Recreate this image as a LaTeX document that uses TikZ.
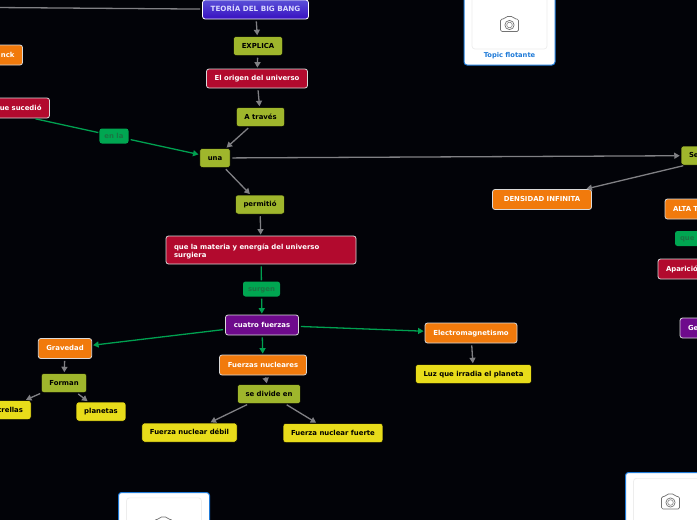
\documentclass[tikz,border=0pt]{standalone}
\usepackage{fontspec}
\setmainfont{DejaVu Sans}
\usetikzlibrary{arrows.meta}
\definecolor{pagebg}{HTML}{020308}
\definecolor{olivebox}{HTML}{9FB62C}
\definecolor{crimsonbox}{HTML}{B20A2E}
\definecolor{orangebox}{HTML}{F17A0C}
\definecolor{yellowbox}{HTML}{E8DC1A}
\definecolor{purplebox}{HTML}{6E0A8C}
\definecolor{greenbox}{HTML}{00A651}
\definecolor{greenline}{HTML}{00A050}
\definecolor{greenword}{HTML}{1B7544}
\definecolor{greyline}{HTML}{808084}
\definecolor{cardblue}{HTML}{1E7AD8}
\definecolor{bigbangtop}{HTML}{5A50D8}
\definecolor{bigbangbot}{HTML}{3810C0}
\tikzset{
  topic/.style={rounded corners=2.5pt,inner xsep=8pt,inner ysep=0pt,minimum height=19pt,
    text height=4.7pt,text depth=0.5pt,font=\bfseries\fontsize{6.9}{8}\selectfont},
  main/.style={topic,draw=white!85!black,line width=0.8pt,text=white},
  sub/.style={topic,draw=black,line width=0.5pt,text=black},
  verb/.style={sub,fill=olivebox},
  red/.style={main,fill=crimsonbox},
  orange/.style={main,fill=orangebox},
  violet/.style={main,fill=purplebox},
  yellow/.style={sub,fill=yellowbox},
  tag/.style={topic,fill=greenbox,text=greenword,minimum height=15pt,inner xsep=5pt},
  link/.style={draw=greyline,line width=1.3pt,-{Triangle[length=5.5pt,width=6pt]},shorten >=1pt,shorten <=2pt},
  greenlink/.style={link,draw=greenline,-{Triangle[length=5.5pt,width=6pt]}},
  card/.style={draw=cardblue,fill=white,line width=1pt,rounded corners=3pt,minimum width=91pt,minimum height=96pt},
  photo/.style={draw=black!7,fill=white,line width=0.7pt,rounded corners=3pt,minimum width=75pt,minimum height=75pt},
  camera/.pic={
    \draw[black!55,line width=0.7pt,rounded corners=1.5pt] (-9,-5.5) -- (-5,-5.5) -- (-3.5,-8) -- (3.5,-8)
      -- (5,-5.5) -- (9,-5.5) -- (9,7) -- (-9,7) -- cycle;
    \draw[black!55,line width=0.7pt] (0,0.5) circle [radius=4.6];
    \draw[black!55,line width=0.5pt] (0,0.5) circle [radius=2.8];
  }
}
\begin{document}
\begin{tikzpicture}[x=1pt,y=-1pt]
\useasboundingbox (0,0) rectangle (697,520);
\clip (0,0) rectangle (697,520);
\fill[pagebg] (0,0) rectangle (697,520);
% Floating cards
\node[card] (cardtop) at (509.5,17) {};
\node[photo] (phototop) at (509.5,11.5) {};
\pic at (509.5,24.5) {camera};
\node[text=cardblue,font=\bfseries\fontsize{6.7}{8}\selectfont] (flotante) at (509.5,55.5) {Topic flotante};
\node[card,anchor=north] (cardleft) at (164,492) {};
\node[photo,anchor=north] (photoleft) at (164,497.5) {};
\pic at (163.5,525) {camera};
\node[card,anchor=north] (cardright) at (671,472) {};
\node[photo,anchor=north] (photoright) at (671,478) {};
\pic at (670.5,502) {camera};
% Central column
\coordinate (offleft) at (-4,7.5);
\node[main,top color=bigbangtop,bottom color=bigbangbot,draw=white,minimum width=105pt,text=white!85!blue,font=\bfseries\fontsize{7.2}{8}\selectfont] (teoria) at (255.5,9.5) {TEORÍA DEL BIG BANG};
\node[verb,minimum width=49pt] (explica) at (258,46) {EXPLICA};
\node[red,minimum width=101pt] (origen) at (257,78.5) {El origen del universo};
\node[verb,minimum width=48pt] (traves) at (260.5,117) {A través};
\node[verb,minimum width=30pt] (una) at (215,158) {una};
\node[verb,minimum width=48pt] (permitio) at (260,204.5) {permitió};
\node[red,text width=174pt,minimum height=28pt,text height=,text depth=,align=left] (materia) at (261,250) {\rule{0pt}{8pt}que la materia y energía del universo\\surgiera};
\node[tag,minimum width=37pt] (surgen) at (261.5,289) {surgen};
\node[violet,minimum width=73pt,minimum height=20pt] (cuatro) at (262,325) {cuatro fuerzas};
\node[orange,minimum width=87pt,minimum height=20pt] (nucleares) at (263,365) {Fuerzas nucleares};
\node[verb,minimum width=62pt] (divide) at (269,394) {se divide en};
\node[yellow,minimum width=95pt] (debil) at (189.5,432.5) {Fuerza nuclear débil};
\node[yellow,minimum width=99pt] (fuerte) at (333,433) {Fuerza nuclear fuerte};
% Left branch
\node[orange,minimum height=20pt,text width=64pt,align=right] (planck) at (-17.5,55) {nck};
\node[red,minimum height=20pt,text width=111pt,align=right] (sucedio) at (-14,108) {ue sucedió};
\node[tag,minimum width=28pt] (enla) at (114,136) {en la};
\node[orange,minimum width=53pt,minimum height=20pt] (gravedad) at (65,348.5) {Gravedad};
\node[verb,minimum width=45pt] (forman) at (64,383) {Forman};
\node[yellow,text width=40pt,align=right] (estrellas) at (3,410) {trellas};
\node[yellow,minimum width=49pt] (planetas) at (101,411.5) {planetas};
% Right branch
\node[orange,minimum width=92pt,minimum height=20pt] (electro) at (471,333) {Electromagnetismo};
\node[yellow,minimum width=115pt] (luz) at (473.5,374) {Luz que irradia el planeta};
\node[verb,text width=74pt,align=left] (se) at (726,155.5) {Se};
\node[orange,minimum width=99pt,minimum height=20pt] (densidad) at (542,199.5) {DENSIDAD INFINITA};
\node[orange,minimum height=20pt,text width=64pt,align=left] (alta) at (705,209) {ALTA T};
\node[tag,text width=50pt,align=left] (quea) at (705,238.5) {que a};
\node[red,minimum height=20pt,text width=84pt,align=left] (aparicion) at (708,269) {Aparició};
\node[violet,minimum height=20pt,text width=44pt,align=left] (ge) at (710,328) {Ge};
% Grey connectors
\draw[link,-] (teoria) -- (offleft);
\draw[link] (teoria) -- (explica);
\draw[link] (explica) -- (origen);
\draw[link] (origen) -- (traves);
\draw[link] (traves) -- (una);
\draw[link] (una) -- (permitio);
\draw[link] (permitio) -- (materia);
\draw[link] (una) -- (se);
\draw[link] (se) -- (densidad);
\draw[link] (gravedad) -- (forman);
\draw[link] (forman) -- (estrellas);
\draw[link] (forman) -- (planetas);
\draw[link] (nucleares) -- (divide);
\draw[link] (divide) -- (debil);
\draw[link] (divide) -- (fuerte);
\draw[link] (electro) -- (luz);
% Green connectors
\draw[greenlink,-] (sucedio) -- (enla);
\draw[greenlink] (enla) -- (una);
\draw[greenlink,-] (materia) -- (surgen);
\draw[greenlink] (surgen) -- (cuatro);
\draw[greenlink] (cuatro) -- (gravedad);
\draw[greenlink] (cuatro) -- (nucleares);
\draw[greenlink] (cuatro) -- (electro);
\end{tikzpicture}
\end{document}
